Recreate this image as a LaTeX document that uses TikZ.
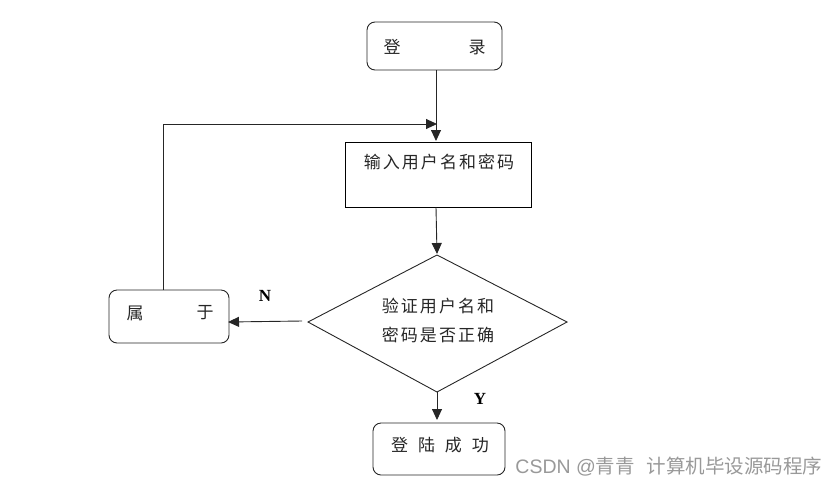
\documentclass[tikz,border=0pt]{standalone}
\usepackage{fontspec}
\setmainfont{Liberation Serif}
\newfontfamily\cjk[LetterSpace=12]{Noto Sans CJK SC}
\newfontfamily\cjkw{Noto Sans CJK SC}
\newfontfamily\wsans{Liberation Sans}
\usetikzlibrary{arrows.meta}
\begin{document}
\begin{tikzpicture}[x=1pt,y=-1pt,
  line width=0.9pt,
  box/.style={draw=black!85, rounded corners=8pt, inner sep=0pt},
  sqbox/.style={draw=black, inner sep=0pt},
  txt/.style={inner sep=0pt, font=\cjk\fontsize{17}{20}\selectfont, text=black!85},
  lbl/.style={inner sep=0pt, font=\bfseries\fontsize{17}{20}\selectfont},
  arr/.style={-{Triangle[length=11pt,width=10pt]}, black!85}]
\useasboundingbox (0,0) rectangle (834,488);
% boxes
\node[box, minimum width=135pt, minimum height=48pt] (login) at (434.5,46) {};
\node[txt] (t1a) at (392,47) {登};
\node[txt] (t1b) at (477,47) {录};
\node[sqbox, minimum width=186pt, minimum height=65pt] (inp) at (438,174.5) {};
\node[txt] (t2) at (439,162) {输入用户名和密码};
\coordinate (dt) at (437,255);
\coordinate (dl) at (308,322);
\coordinate (dr) at (567,322);
\coordinate (db) at (437,392);
\draw[black!85] (dt) -- (dr) -- (db) -- (dl) -- cycle;
\node[txt] (t3a) at (438,306) {验证用户名和};
\node[txt] (t3b) at (438,335) {密码是否正确};
\node[box, minimum width=120pt, minimum height=53pt] (fail) at (169,316.5) {};
\node[txt] (t4a) at (135,313) {属};
\node[txt] (t4b) at (205,313) {于};
\node[box, minimum width=132pt, minimum height=52pt] (ok) at (439,449) {};
\node[txt] (t5) at (440,445) {登\hspace{10pt}陆\hspace{10pt}成\hspace{10pt}功};
\node[lbl] (N) at (265,296) {N};
\node[lbl] (Y) at (480,399) {Y};
% connectors
\coordinate (c1) at (436,141);
\draw[arr] (login.south -| c1) -- (c1);
\coordinate (f0) at (163,124);
\coordinate (f1) at (437,124);
\draw[arr] (fail.north -| f0) -- (f0) -- (f1);
\coordinate (c3) at (437,254);
\draw[arr] (inp.south -| 436,0) -- (c3);
\coordinate (c4s) at (302,321);
\coordinate (c4e) at (228,322);
\draw[arr] (c4s) -- (c4e);
\coordinate (c5) at (437,420);
\draw[arr] (db) -- (c5);
% watermark
\node[inner sep=0pt, anchor=west, text=black!40] (wm) at (515,467)
  {{\wsans\fontsize{19.5}{22}\selectfont CSDN @}{\cjkw\fontsize{19.5}{22}\selectfont 青青\hspace{12pt}计算机毕设源码程序}};
\end{tikzpicture}
\end{document}
